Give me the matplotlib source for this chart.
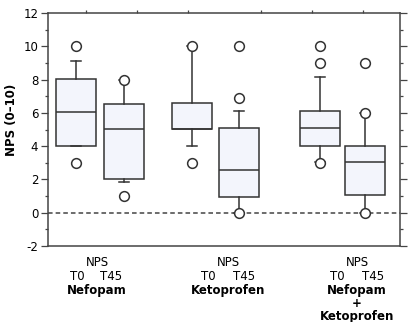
import matplotlib
matplotlib.use("Agg")
import matplotlib.pyplot as plt

# ---- data ----
labels = ["Nefopam T0", "Nefopam T45", "Ketoprofen T0", "Ketoprofen T45",
          "Nefopam+Ketoprofen T0", "Nefopam+Ketoprofen T45"]
q1 = [4.0, 2.05, 5.05, 0.95, 4.02, 1.04]
med = [6.05, 5.02, 5.05, 2.55, 5.07, 3.05]
q3 = [8.06, 6.55, 6.6, 5.07, 6.13, 4.02]
whislo = [4.0, 1.85, 4.02, 0.0, 3.05, 0.0]
whishi = [9.14, 8.0, 10.0, 6.13, 8.18, 6.0]
fliers = [[10, 3], [8, 1], [10, 3], [10, 6.9, 0], [10, 9, 3], [9, 6, 0]]

group_names = ["Nefopam", "Ketoprofen", "Nefopam\n+\nKetoprofen"]
yticks = [-2, 0, 2, 4, 6, 8, 10, 12]

plt.rcParams['font.family'] = ['DejaVu Sans']
plt.rcParams['axes.unicode_minus'] = False

W, H = 410, 322
fig = plt.figure(figsize=(W / 100, H / 100), dpi=100)
L, R, T, B = 48, 400, 13, 246
ax = fig.add_axes([L / W, 1 - B / H, (R - L) / W, (B - T) / H])

positions = [28.5, 76.5, 144, 191, 272.5, 317]
stats = []
for i in range(len(labels)):
    stats.append(dict(label=labels[i], q1=q1[i], med=med[i], q3=q3[i],
                      whislo=whislo[i], whishi=whishi[i], fliers=fliers[i]))

edge = "#333333"
ax.bxp(stats, positions=positions, widths=40, patch_artist=True,
       showfliers=True, manage_ticks=False,
       boxprops=dict(facecolor="#f3f5fc", edgecolor=edge, linewidth=1.1),
       medianprops=dict(color=edge, linewidth=1.1),
       whiskerprops=dict(color=edge, linewidth=1.1),
       capprops=dict(color=edge, linewidth=1.1),
       capwidths=10,
       flierprops=dict(marker="o", markersize=7, markerfacecolor="white",
                       markeredgecolor=edge, markeredgewidth=1.1))

ax.axhline(0, color="#444444", linestyle=(0, (3, 2)), linewidth=1.1, zorder=0.5)

ax.set_xlim(0, R - L)
ax.set_ylim(-2, 12)
ax.set_yticks(yticks)
ax.set_yticks([v + 1 for v in yticks[:-1]], minor=True)
ax.tick_params(axis="y", which="major", length=5, width=0.9, color="#444444",
               labelsize=8.5, right=True, direction="out", pad=2)
ax.tick_params(axis="y", which="minor", length=2.5, width=0.9, color="#444444",
               right=True, direction="out")
ax.set_xticks([38, 89, 140, 213, 264, 315])
ax.tick_params(axis="x", which="major", bottom=False, top=True, labelbottom=False,
               length=2, width=0.9, color="#444444", direction="out")
for s in ax.spines.values():
    s.set_color("#444444")
    s.set_linewidth(1.1)

fig.text(12 / W, 1 - 120 / H, "NPS (0–10)", rotation=90, fontsize=8.5,
         fontweight="bold", ha="center", va="center")

centers = [97, 228, 357]
t0x = [77, 208, 337]
t45x = [111, 244, 373]
for g in range(3):
    fig.text(centers[g] / W, 1 - 262 / H, "NPS", fontsize=8.5, ha="center", va="center")
    fig.text(t0x[g] / W, 1 - 277 / H, "T0", fontsize=8.5, ha="center", va="center")
    fig.text(t45x[g] / W, 1 - 277 / H, "T45", fontsize=8.5, ha="center", va="center")
    fig.text(centers[g] / W, 1 - 284 / H, group_names[g], fontsize=8.5,
             fontweight="bold", ha="center", va="top", linespacing=1.0)

fig.savefig("out.png", dpi=100)
